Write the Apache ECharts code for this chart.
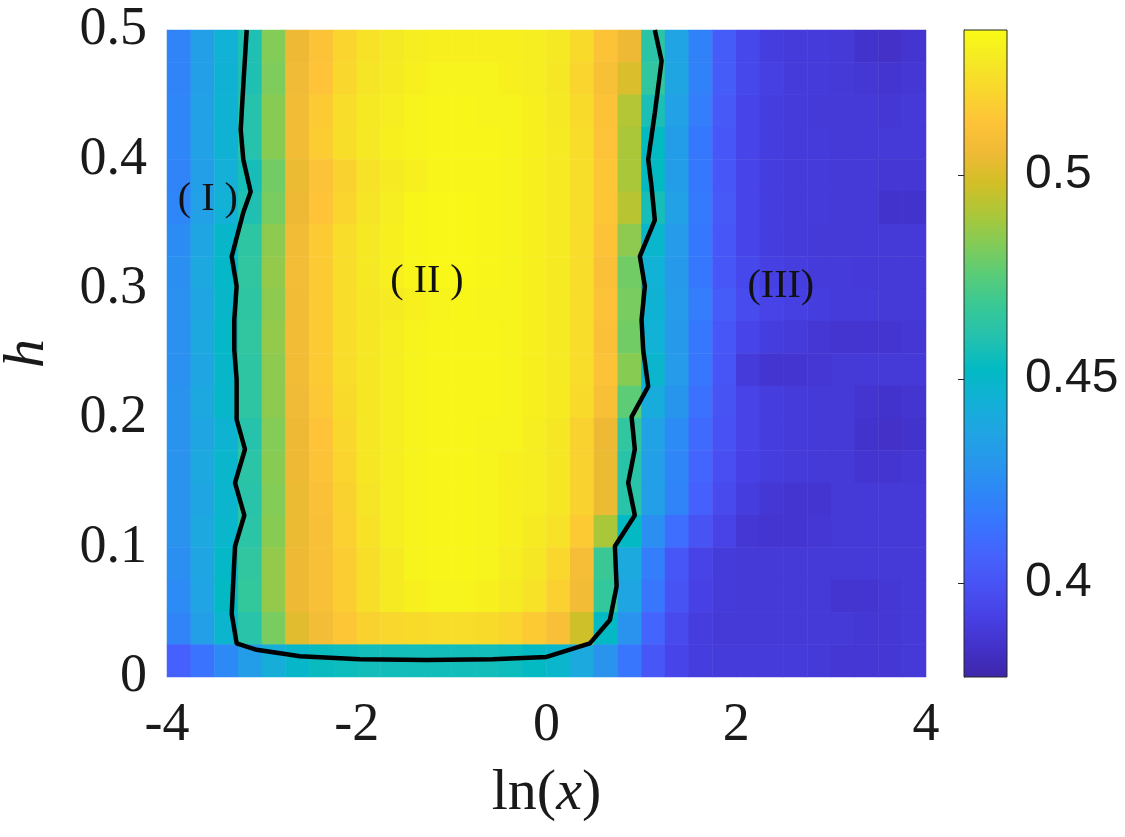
<!DOCTYPE html>
<html>
<head>
<meta charset="utf-8">
<script src="https://cdn.jsdelivr.net/npm/echarts@6/dist/echarts.min.js"></script>
<style>
  html, body { margin: 0; padding: 0; background: #fff; }
  #chart { width: 1125px; height: 837px; }
</style>
</head>
<body>
<div id="chart"></div>
<script>
// cell centres of the map (ln(x) and h)
var xCells = [-3.875,-3.625,-3.375,-3.125,-2.875,-2.625,-2.375,-2.125,-1.875,-1.625,-1.375,-1.125,
  -0.875,-0.625,-0.375,-0.125,0.125,0.375,0.625,0.875,1.125,1.375,1.625,1.875,
  2.125,2.375,2.625,2.875,3.125,3.375,3.625,3.875];
var hCells = [0.0125,0.0375,0.0625,0.0875,0.1125,0.1375,0.1625,0.1875,0.2125,0.2375,
  0.2625,0.2875,0.3125,0.3375,0.3625,0.3875,0.4125,0.4375,0.4625,0.4875];

// map values, one row per h, top row first
var zRows = [
  [.421,.434,.445,.459,.483,.505,.512,.520,.525,.528,.530,.531,.531,.531,.531,.530,.528,.522,.512,.505,.463,.437,.420,.404,.395,.390,.389,.389,.388,.385,.384,.386],
  [.421,.434,.446,.459,.482,.506,.513,.521,.526,.529,.531,.532,.532,.532,.531,.530,.527,.520,.510,.500,.465,.438,.420,.404,.395,.391,.389,.389,.388,.387,.386,.387],
  [.422,.435,.446,.461,.484,.507,.516,.523,.528,.530,.532,.533,.533,.532,.532,.531,.528,.522,.512,.492,.458,.435,.418,.403,.394,.390,.389,.388,.388,.388,.387,.388],
  [.422,.435,.446,.461,.484,.507,.517,.524,.528,.531,.532,.533,.533,.533,.532,.531,.529,.523,.513,.490,.453,.433,.416,.402,.394,.390,.389,.389,.388,.388,.388,.388],
  [.421,.434,.444,.457,.480,.504,.512,.519,.525,.529,.531,.533,.533,.533,.532,.531,.529,.524,.514,.490,.453,.433,.416,.402,.394,.390,.389,.389,.388,.388,.387,.387],
  [.422,.435,.445,.459,.481,.505,.513,.520,.526,.530,.533,.534,.534,.533,.532,.531,.529,.524,.514,.493,.457,.435,.417,.403,.394,.390,.389,.389,.388,.388,.385,.385],
  [.425,.438,.450,.464,.485,.507,.516,.523,.528,.531,.533,.534,.534,.533,.532,.531,.529,.523,.512,.485,.449,.432,.416,.402,.394,.390,.389,.388,.388,.388,.388,.388],
  [.426,.439,.451,.465,.486,.508,.516,.523,.528,.531,.533,.534,.534,.533,.532,.531,.529,.523,.511,.480,.445,.431,.416,.402,.395,.391,.390,.389,.389,.388,.388,.388],
  [.427,.438,.450,.464,.485,.507,.516,.523,.527,.529,.531,.532,.533,.532,.532,.531,.529,.523,.512,.481,.446,.432,.418,.404,.397,.393,.391,.390,.389,.389,.388,.388],
  [.427,.439,.451,.465,.486,.507,.516,.523,.527,.530,.532,.533,.533,.533,.532,.531,.529,.523,.511,.480,.445,.431,.416,.402,.394,.390,.389,.387,.386,.386,.386,.387],
  [.427,.438,.450,.464,.485,.507,.516,.523,.527,.530,.532,.533,.533,.533,.532,.531,.529,.523,.512,.484,.448,.432,.415,.401,.389,.386,.386,.387,.388,.388,.388,.388],
  [.428,.439,.450,.464,.485,.506,.515,.522,.527,.530,.532,.533,.533,.533,.532,.531,.529,.522,.510,.476,.442,.429,.413,.400,.393,.390,.389,.388,.388,.386,.385,.386],
  [.428,.438,.447,.461,.483,.505,.513,.521,.527,.530,.532,.533,.533,.532,.532,.530,.527,.519,.505,.465,.436,.424,.410,.399,.393,.390,.389,.388,.388,.385,.384,.385],
  [.428,.439,.449,.463,.484,.505,.512,.520,.527,.530,.532,.533,.533,.532,.531,.530,.527,.519,.504,.462,.434,.422,.408,.398,.392,.390,.389,.388,.388,.386,.386,.387],
  [.428,.438,.448,.462,.483,.504,.511,.519,.526,.530,.532,.533,.533,.532,.531,.530,.527,.519,.504,.462,.434,.421,.406,.396,.390,.387,.386,.386,.388,.388,.388,.388],
  [.428,.439,.449,.463,.484,.504,.510,.518,.525,.530,.532,.533,.533,.532,.531,.529,.525,.516,.490,.452,.426,.412,.400,.393,.387,.386,.386,.387,.388,.388,.388,.388],
  [.426,.438,.451,.465,.486,.505,.510,.517,.524,.529,.532,.533,.533,.532,.530,.527,.521,.509,.468,.440,.418,.402,.393,.389,.388,.388,.388,.388,.388,.388,.388,.388],
  [.424,.437,.452,.466,.486,.505,.510,.517,.524,.529,.531,.532,.532,.531,.529,.525,.518,.507,.466,.438,.415,.400,.392,.389,.388,.388,.388,.388,.386,.386,.387,.388],
  [.421,.434,.448,.462,.481,.502,.508,.514,.519,.521,.522,.523,.523,.522,.520,.516,.510,.497,.452,.428,.408,.396,.390,.388,.388,.388,.388,.388,.388,.387,.387,.388],
  [.406,.414,.423,.433,.443,.450,.454,.455,.456,.456,.456,.456,.456,.456,.455,.453,.449,.440,.428,.415,.402,.394,.390,.389,.389,.389,.389,.388,.387,.387,.387,.388]
];

// black boundary line, [ln(x), h]
var contourPts = [
  [-3.160,0.500],[-3.196,0.457],[-3.223,0.423],[-3.196,0.400],[-3.118,0.375],[-3.196,0.359],
  [-3.318,0.325],[-3.266,0.302],[-3.291,0.276],[-3.291,0.253],[-3.266,0.230],[-3.266,0.199],
  [-3.178,0.176],[-3.283,0.150],[-3.185,0.125],[-3.283,0.101],[-3.301,0.075],[-3.318,0.049],
  [-3.266,0.026],[-3.055,0.021],[-2.599,0.016],[-1.966,0.0137],[-1.263,0.0131],[-0.565,0.0137],
  [0.001,0.0155],[0.457,0.026],[0.668,0.044],[0.739,0.070],[0.721,0.101],[0.931,0.125],
  [0.861,0.150],[0.931,0.176],[0.897,0.201],[1.072,0.2245],[1.019,0.253],[1.002,0.276],
  [1.037,0.302],[0.984,0.325],[1.142,0.353],[1.107,0.379],[1.072,0.400],[1.142,0.436],
  [1.213,0.476],[1.142,0.500]
];

var regionNames = ['( I )', '( II )', '(III)'];
var regionX = [-3.57, -1.26, 2.47];
var regionH = [0.369, 0.306, 0.302];

var cbMin = 0.377, cbMax = 0.5355;
var cbTicks = [0.4, 0.45, 0.5];

// parula
var parula = ['#3e26a8','#4332cb','#4741e5','#4852f4','#4563fd','#3875fe','#2e87f7','#2797eb',
  '#20a5e3','#12b1d6','#02bac3','#24c1af','#37c897','#57cc7a','#81cc59','#abc739',
  '#d1bf27','#efba36','#fec338','#f9d62d','#f5e924','#f9fb15'];

var heatData = [];
zRows.forEach(function(row, r){
  var j = hCells.length - 1 - r;
  row.forEach(function(v, i){ heatData.push([i, j, v]); });
});
var regionData = regionNames.map(function(n, k){ return {name: n, value: [regionX[k], regionH[k]]}; });

var serif = 'Liberation Serif';
var sans = 'Liberation Sans';
var plot = {left: 167, top: 30, width: 759, height: 647};
var cb = {left: 964, top: 30, width: 43, height: 647};

var chart = echarts.init(document.getElementById('chart'));
chart.setOption({
  animation: false,
  backgroundColor: '#fff',
  grid: [
    {left: plot.left, top: plot.top, width: plot.width, height: plot.height, containLabel: false, outerBoundsMode: 'none'},
    {left: cb.left, top: cb.top, width: cb.width, height: cb.height, containLabel: false, outerBoundsMode: 'none'}
  ],
  xAxis: [
    {type: 'category', gridIndex: 0, data: xCells, show: false},
    {type: 'value', gridIndex: 0, min: -4, max: 4, interval: 2, position: 'bottom',
      axisLine: {show: false}, axisTick: {show: false}, splitLine: {show: false},
      axisLabel: {margin: 22, color: '#1a1a1a', fontFamily: serif, fontSize: 54},
      name: '{a|ln(}{b|x}{a|)}', nameLocation: 'middle', nameGap: 88,
      nameTextStyle: {color: '#1a1a1a', rich: {
        a: {fontFamily: serif, fontSize: 58, color: '#1a1a1a'},
        b: {fontFamily: serif, fontSize: 58, fontStyle: 'italic', color: '#1a1a1a'}
      }}},
    {type: 'value', gridIndex: 1, min: 0, max: 1, show: false}
  ],
  yAxis: [
    {type: 'category', gridIndex: 0, data: hCells, show: false},
    {type: 'value', gridIndex: 0, min: 0, max: 0.5, interval: 0.1, position: 'left',
      axisLine: {show: false}, axisTick: {show: false}, splitLine: {show: false},
      axisLabel: {margin: 20, color: '#1a1a1a', fontFamily: serif, fontSize: 54},
      name: 'h', nameLocation: 'middle', nameGap: 110,
      nameTextStyle: {fontFamily: serif, fontSize: 58, fontStyle: 'italic', color: '#1a1a1a'}},
    {type: 'value', gridIndex: 1, min: cbMin, max: cbMax, position: 'right',
      axisLine: {show: true, lineStyle: {color: '#262626', width: 1}},
      axisTick: {show: true, inside: true, length: 6, customValues: cbTicks, lineStyle: {color: '#262626'}},
      splitLine: {show: false},
      axisLabel: {customValues: cbTicks, margin: 18, color: '#1a1a1a', fontFamily: sans, fontSize: 48,
        formatter: function(v){ return String(+v.toFixed(2)); }}}
  ],
  visualMap: {
    type: 'continuous', show: false, min: cbMin, max: cbMax, seriesIndex: 0, dimension: 2,
    inRange: {color: parula}
  },
  graphic: [{
    type: 'rect', z: 1,
    shape: {x: cb.left, y: cb.top, width: cb.width, height: cb.height},
    style: {
      fill: new echarts.graphic.LinearGradient(0, 1, 0, 0,
        parula.map(function(c, k){ return {offset: k / (parula.length - 1), color: c}; })),
      stroke: '#262626', lineWidth: 1
    }
  }],
  series: [
    {type: 'heatmap', xAxisIndex: 0, yAxisIndex: 0, data: heatData, progressive: 0,
      emphasis: {disabled: true}, z: 1},
    {type: 'line', xAxisIndex: 1, yAxisIndex: 1, data: contourPts, symbol: 'none', smooth: false,
      lineStyle: {color: '#000', width: 4.5}, z: 5, silent: true},
    {type: 'scatter', xAxisIndex: 1, yAxisIndex: 1, data: regionData, symbolSize: 2,
      itemStyle: {color: 'rgba(0,0,0,0)', opacity: 1}, z: 6, silent: true,
      label: {show: true, position: 'inside', formatter: '{b}', color: '#111',
        fontFamily: serif, fontSize: 40}}
  ]
});
</script>
</body>
</html>
